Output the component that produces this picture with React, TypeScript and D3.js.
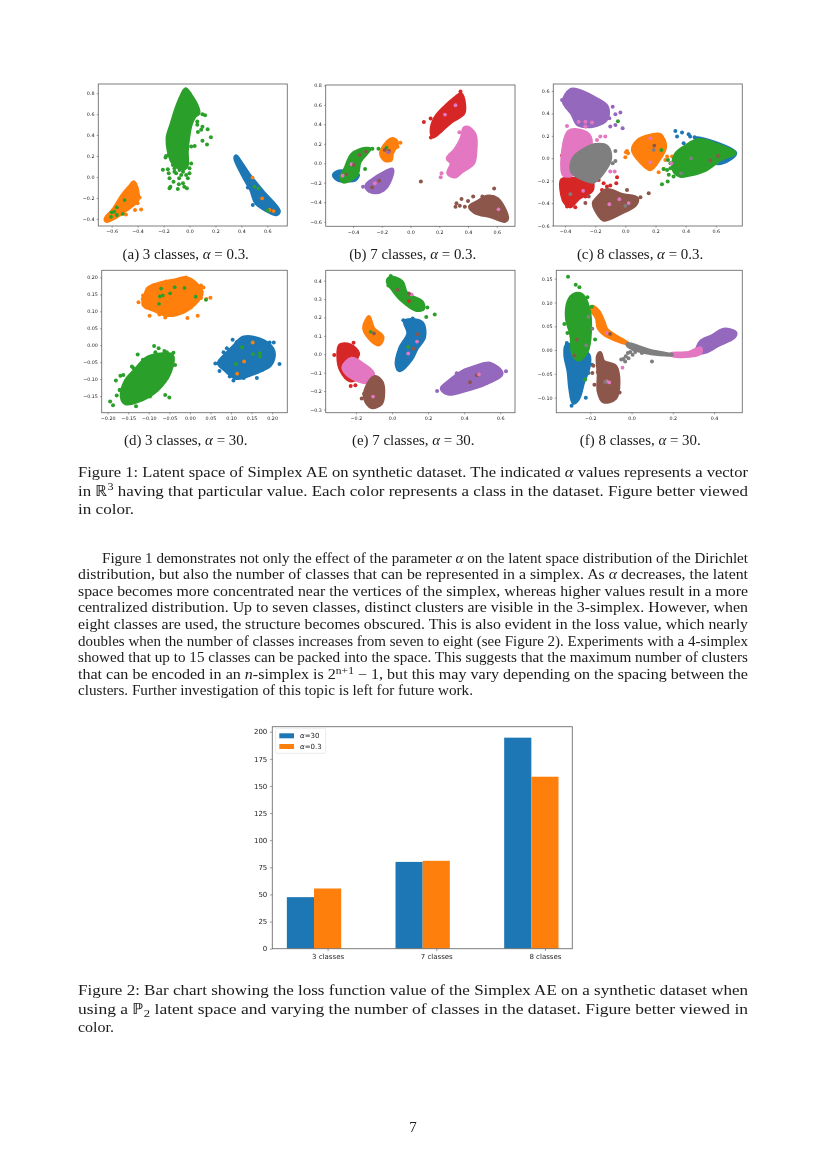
import React, { useEffect, useRef } from 'react';
import * as d3 from 'd3';

type Pt = [number, number];
type Over = [number, number, number];
type Seg = { t: string; i?: boolean; sup?: boolean };

const blue = '#1f77b4';
const orange = '#ff7f0e';
const green = '#2ca02c';
const red = '#d62728';
const purple = '#9467bd';
const brown = '#8c564b';
const pink = '#e377c2';
const gray = '#7f7f7f';
const classColors = [blue, orange, green, red, purple, brown, pink, gray];

// --- (a) 3 classes, alpha 0.3 ---
const aTicksX = [-0.6, -0.4, -0.2, 0, 0.2, 0.4, 0.6];
const aTicksY = [-0.4, -0.2, 0, 0.2, 0.4, 0.6, 0.8];
const aBlueBody: Pt[] = [[0.36, 0.2], [0.385, 0.16], [0.46, 0.02], [0.565, -0.14], [0.69, -0.325], [0.668, -0.357], [0.604, -0.325], [0.514, -0.25], [0.475, -0.124], [0.41, 0.02], [0.352, 0.178]];
const aBluePts: Pt[] = [[0.488, -0.268], [0.45, -0.1]];
const aOrangeBody: Pt[] = [[-0.43, -0.05], [-0.4, -0.14], [-0.4, -0.22], [-0.49, -0.315], [-0.565, -0.38], [-0.64, -0.42], [-0.648, -0.4], [-0.59, -0.315], [-0.515, -0.17], [-0.46, -0.09]];
const aOrangePts: Pt[] = [[-0.373, -0.31], [-0.42, -0.315], [-0.4, -0.25], [-0.385, -0.195], [-0.49, -0.357], [-0.515, -0.347]];
const aGreenBody: Pt[] = [[-0.03, 0.84], [0.01, 0.78], [0.06, 0.67], [0.07, 0.61], [0.04, 0.58], [0.01, 0.5], [-0.01, 0.37], [-0.02, 0.24], [-0.02, 0.11], [-0.04, 0.08], [-0.1, 0.1], [-0.14, 0.16], [-0.17, 0.37], [-0.14, 0.5], [-0.1, 0.66], [-0.06, 0.78]];
const aGreenPts: Pt[] = [[0.1, 0.6], [0.12, 0.59], [0.06, 0.53], [0.06, 0.5], [0.1, 0.48], [0.14, 0.455], [0.09, 0.45], [0.065, 0.43], [0.165, 0.38], [0.1, 0.347], [0.135, 0.31], [0.04, 0.296], [0.013, 0.29], [-0.167, 0.385], [-0.154, 0.354], [-0.18, 0.2], [-0.185, 0.185], [-0.205, 0.07], [-0.167, 0.073], [-0.16, 0.035], [-0.116, 0.05], [-0.154, -0.013], [-0.08, -0.013], [-0.026, 0.02], [0, 0.035], [-0.147, -0.092], [-0.154, -0.108], [-0.082, -0.07], [-0.05, -0.06], [-0.04, -0.092], [-0.02, -0.108], [-0.09, -0.115], [-0.123, -0.045], [-0.064, 0.02], [-0.103, 0.035], [-0.05, 0.05], [-0.013, -0.013], [-0.128, 0.115], [-0.116, 0.083], [-0.077, 0.067], [0, 0.083], [0.013, 0.13], [-0.16, 0.21], [-0.154, 0.258]];
const aOver: Over[] = [[-0.5, -0.22, 2], [-0.56, -0.29, 2], [-0.6, -0.337, 2], [-0.605, -0.38, 2], [-0.56, -0.363, 2], [-0.515, -0.353, 2], [-0.58, -0.33, 2], [0.486, -0.006, 1], [0.56, -0.204, 1], [0.617, -0.315, 1], [0.648, -0.325, 1], [0.5, -0.092, 2], [0.532, -0.108, 2], [0.604, -0.32, 2]];

// --- (b) 7 classes, alpha 0.3 ---
const bTicksX = [-0.4, -0.2, 0, 0.2, 0.4, 0.6];
const bTicksY = [-0.6, -0.4, -0.2, 0, 0.2, 0.4, 0.6, 0.8];
const bBlueBody: Pt[] = [[-0.534, -0.12], [-0.503, -0.086], [-0.457, -0.086], [-0.387, -0.137], [-0.364, -0.12], [-0.387, -0.171], [-0.445, -0.178], [-0.503, -0.171], [-0.53, -0.137]];
const bOrangeBody: Pt[] = [[-0.114, 0.247], [-0.093, 0.205], [-0.128, 0.103], [-0.137, 0.034], [-0.179, 0.034], [-0.206, 0.103], [-0.179, 0.188], [-0.144, 0.24]];
const bOrangePts: Pt[] = [[-0.07, 0.212], [-0.09, 0.171]];
const bGreenBody: Pt[] = [[-0.283, 0.147], [-0.306, 0.103], [-0.353, 0.017], [-0.376, -0.12], [-0.469, -0.188], [-0.48, -0.137], [-0.452, -0.05], [-0.41, 0.086], [-0.353, 0.137]];
const bGreenPts: Pt[] = [[-0.265, 0.15], [-0.223, 0.15], [-0.316, -0.058]];
const bRedBody: Pt[] = [[0.35, 0.71], [0.374, 0.6], [0.367, 0.51], [0.285, 0.43], [0.216, 0.34], [0.158, 0.274], [0.146, 0.325], [0.17, 0.46], [0.24, 0.58], [0.31, 0.67]];
const bRedPts: Pt[] = [[0.093, 0.425], [0.14, 0.46], [0.348, 0.736], [0.142, 0.264], [0.18, 0.3], [0.174, 0.43]];
const bPurpleBody: Pt[] = [[-0.128, -0.062], [-0.137, -0.154], [-0.19, -0.274], [-0.248, -0.298], [-0.295, -0.274], [-0.306, -0.223], [-0.248, -0.154], [-0.202, -0.113]];
const bPurplePts: Pt[] = [[-0.33, -0.24]];
const bBrownBody: Pt[] = [[0.53, -0.342], [0.605, -0.366], [0.673, -0.565], [0.657, -0.592], [0.564, -0.548], [0.448, -0.503], [0.413, -0.445], [0.47, -0.394]];
const bBrownPts: Pt[] = [[0.582, -0.26], [0.313, -0.445], [0.32, -0.41], [0.355, -0.366], [0.4, -0.387], [0.436, -0.342], [0.5, -0.342], [0.343, -0.435], [0.378, -0.445], [0.072, -0.188]];
const bPinkBody: Pt[] = [[0.4, 0.366], [0.448, 0.29], [0.452, 0.12], [0.436, 0], [0.355, -0.086], [0.31, -0.137], [0.262, -0.103], [0.285, 0], [0.258, 0.05], [0.31, 0.137], [0.355, 0.257], [0.374, 0.36]];
const bPinkPts: Pt[] = [[0.216, -0.103], [0.21, -0.144], [0.34, 0.318]];
const bOver: Over[] = [[0.313, 0.596, 6], [0.24, 0.5, 6], [0.612, -0.473, 6], [-0.248, -0.205, 6], [-0.218, -0.178, 5], [-0.267, -0.247, 5], [-0.41, -0.01, 6], [-0.473, -0.127, 6], [-0.394, -0.017, 5], [-0.445, -0.113, 5], [-0.353, 0.086, 5], [-0.309, 0.12, 5], [-0.167, 0.16, 2], [-0.15, 0.127, 5], [-0.179, 0.137, 5], [-0.155, 0.113, 4]];

// --- (c) 8 classes, alpha 0.3 ---
const cTicksX = [-0.4, -0.2, 0, 0.2, 0.4, 0.6];
const cTicksY = [-0.6, -0.4, -0.2, 0, 0.2, 0.4, 0.6];
const cBlueBody: Pt[] = [[0.465, 0.178], [0.73, 0.045], [0.61, -0.045], [0.487, 0.13]];
const cBluePts: Pt[] = [[0.332, 0.243], [0.376, 0.23], [0.343, 0.193], [0.42, 0.214], [0.43, 0.193], [0.46, 0.187], [0.387, 0.134], [0.454, 0.134]];
const cOrangeBody: Pt[] = [[0.166, 0.202], [0.232, 0.208], [0.265, 0.104], [0.221, -0.015], [0.166, -0.098], [0.1, -0.03], [0.049, 0.074], [0.088, 0.163]];
const cOrangePts: Pt[] = [[0.004, 0.053], [0.018, 0.045], [0, 0.009], [0.011, 0.065], [0.221, -0.125], [0.254, -0.095], [0.277, 0.015], [0.31, 0.015], [0.265, -0.015]];
const cGreenBody: Pt[] = [[0.487, 0.163], [0.608, 0.119], [0.726, 0.045], [0.642, 0], [0.53, -0.104], [0.42, -0.148], [0.365, -0.157], [0.32, -0.104], [0.332, 0.03], [0.398, 0.104]];
const cGreenPts: Pt[] = [[-0.049, 0.33], [0.239, 0.074], [0.243, -0.231], [0.281, -0.208], [0.288, -0.148], [0.254, -0.095], [0.277, -0.104], [0.299, -0.045], [0.283, -0.015], [0.32, -0.163], [0.299, -0.09]];
const cRedBody: Pt[] = [[-0.42, -0.193], [-0.31, -0.184], [-0.232, -0.178], [-0.221, -0.282], [-0.31, -0.356], [-0.365, -0.43], [-0.398, -0.4], [-0.42, -0.326]];
const cRedPts: Pt[] = [[-0.42, 0.024], [-0.416, -0.045], [-0.387, -0.43], [-0.332, -0.436], [-0.177, -0.193], [-0.144, -0.223], [-0.122, -0.252], [-0.055, -0.169], [-0.06, -0.223], [-0.1, -0.243], [-0.155, -0.282], [-0.243, -0.297], [-0.265, -0.341]];
const cPurpleBody: Pt[] = [[-0.365, 0.608], [-0.32, 0.608], [-0.199, 0.534], [-0.122, 0.46], [-0.122, 0.356], [-0.188, 0.297], [-0.31, 0.297], [-0.354, 0.4], [-0.409, 0.504]];
const cPurplePts: Pt[] = [[-0.084, 0.46], [-0.033, 0.407], [-0.066, 0.392], [-0.106, 0.356], [-0.018, 0.267], [-0.066, 0.297], [-0.1, 0.282], [-0.42, 0.52]];
const cBrownBody: Pt[] = [[-0.122, -0.282], [-0.022, -0.326], [0.077, -0.356], [0.066, -0.415], [-0.033, -0.49], [-0.144, -0.549], [-0.177, -0.504], [-0.21, -0.4], [-0.177, -0.341]];
const cBrownPts: Pt[] = [[0.155, -0.312], [0.1, -0.347], [0.011, -0.282], [-0.243, -0.341], [-0.265, -0.4]];
const cPinkBody: Pt[] = [[-0.332, 0.252], [-0.243, 0.208], [-0.232, 0.104], [-0.343, -0.045], [-0.354, -0.148], [-0.409, -0.148], [-0.42, -0.045], [-0.398, 0.178], [-0.376, 0.237]];
const cPinkPts: Pt[] = [[-0.387, 0.288], [-0.265, 0.282], [-0.221, 0.318], [-0.166, 0.193], [-0.133, 0.193], [-0.188, 0.163], [-0.31, 0.326], [-0.265, 0.326], [-0.1, -0.119], [-0.071, -0.119]];
const cGrayBody: Pt[] = [[-0.199, 0.119], [-0.122, 0.104], [-0.1, 0], [-0.144, -0.119], [-0.21, -0.208], [-0.265, -0.193], [-0.354, -0.119], [-0.343, 0], [-0.277, 0.074]];
const cGrayPts: Pt[] = [[-0.066, -0.024], [-0.084, -0.045], [-0.122, 0.074], [-0.066, 0.065]];
const cOver: Over[] = [[0.166, 0.178, 6], [0.188, 0.074, 7], [0.192, 0.113, 5], [0.166, -0.036, 6], [0.436, 0, 7], [0.564, -0.02, 5], [0.615, 0.02, 5], [0.305, -0.045, 6], [0.37, -0.134, 7], [-0.106, -0.41, 6], [-0.04, -0.365, 6], [0.022, -0.4, 6], [0, -0.424, 7], [-0.365, -0.32, 7], [-0.28, -0.29, 6]];

// --- (d) 3 classes, alpha 30 ---
const dTicksX = [-0.2, -0.15, -0.1, -0.05, 0, 0.05, 0.1, 0.15, 0.2];
const dTicksY = [-0.15, -0.1, -0.05, 0, 0.05, 0.1, 0.15, 0.2];
const dBlueBody: Pt[] = [[0.106, -0.004], [0.131, 0.023], [0.179, 0.013], [0.204, -0.019], [0.196, -0.058], [0.155, -0.083], [0.114, -0.097], [0.086, -0.073], [0.07, -0.053], [0.09, -0.024]];
const dBluePts: Pt[] = [[0.104, 0.016], [0.062, -0.054], [0.082, -0.021], [0.218, -0.055], [0.204, 0.008], [0.194, 0.008], [0.163, -0.097], [0.106, -0.104], [0.072, -0.076], [0.114, 0.009], [0.151, 0.019], [0.187, 0.006], [0.2, -0.043], [0.175, -0.073], [0.131, -0.097], [0.097, -0.092], [0.078, -0.063], [0.09, -0.009]];
const dOrangeBody: Pt[] = [[-0.1, 0.17], [-0.032, 0.193], [-0.007, 0.198], [0.021, 0.173], [0.029, 0.153], [0.017, 0.129], [-0.015, 0.099], [-0.056, 0.089], [-0.088, 0.104], [-0.113, 0.119], [-0.109, 0.148]];
const dOrangePts: Pt[] = [[-0.125, 0.127], [-0.115, 0.136], [0.05, 0.14], [0.04, 0.136], [-0.098, 0.087], [-0.06, 0.082], [-0.006, 0.08], [0.019, 0.087], [-0.01, 0.2], [0.033, 0.17], [-0.103, 0.166], [-0.087, 0.178], [-0.058, 0.188], [0.002, 0.19], [0.027, 0.176], [0.027, 0.139], [0.002, 0.111], [-0.03, 0.097], [-0.074, 0.091], [-0.106, 0.111], [-0.114, 0.147]];
const dGreenBody: Pt[] = [[-0.072, -0.027], [-0.044, -0.029], [-0.048, -0.078], [-0.08, -0.132], [-0.129, -0.166], [-0.157, -0.171], [-0.166, -0.151], [-0.157, -0.107], [-0.133, -0.073], [-0.105, -0.038]];
const dGreenPts: Pt[] = [[-0.087, -0.002], [-0.127, -0.027], [-0.04, -0.022], [-0.036, -0.058], [-0.18, -0.104], [-0.169, -0.09], [-0.194, -0.166], [-0.187, -0.177], [-0.178, -0.148], [-0.171, -0.132], [-0.06, -0.147], [-0.05, -0.154], [-0.131, -0.18], [-0.137, -0.068], [-0.076, -0.009], [-0.062, -0.017], [-0.084, -0.021], [-0.056, -0.021], [-0.045, -0.048], [-0.056, -0.097], [-0.097, -0.151], [-0.117, -0.151], [-0.145, -0.171], [-0.17, -0.132], [-0.162, -0.088], [-0.141, -0.063], [-0.114, -0.043]];
const dOver: Over[] = [[-0.07, 0.167, 2], [-0.073, 0.144, 2], [-0.066, 0.147, 2], [-0.048, 0.153, 2], [-0.037, 0.171, 2], [-0.013, 0.169, 2], [0.014, 0.143, 2], [-0.075, 0.122, 2], [0.039, 0.134, 2], [0.153, 0.008, 1], [0.132, -0.048, 1], [0.115, -0.084, 1], [0.127, -0.006, 2], [0.153, -0.026, 2], [0.17, -0.023, 2], [0.171, -0.033, 2], [0.112, -0.055, 2]];

// --- (e) 7 classes, alpha 30 ---
const eTicksX = [-0.2, 0, 0.2, 0.4, 0.6];
const eTicksY = [-0.3, -0.2, -0.1, 0, 0.1, 0.2, 0.3, 0.4];
const eBlueBody: Pt[] = [[0.072, 0.18], [0.165, 0.172], [0.179, 0.094], [0.137, 0.031], [0.109, -0.024], [0.044, -0.087], [0.026, -0.06], [0.044, 0.031], [0.09, 0.113]];
const eBluePts: Pt[] = [[0.115, 0.194], [0.035, -0.082], [0.063, 0.185]];
const eOrangeBody: Pt[] = [[-0.128, 0.203], [-0.103, 0.14], [-0.052, 0.094], [-0.072, 0.053], [-0.113, 0.076], [-0.155, 0.14], [-0.141, 0.185]];
const eGreenBody: Pt[] = [[-0.011, 0.416], [0.054, 0.394], [0.081, 0.33], [0.165, 0.285], [0.174, 0.249], [0.137, 0.24], [0.054, 0.294], [0.007, 0.348], [-0.024, 0.394]];
const eGreenPts: Pt[] = [[-0.02, 0.374], [0.196, 0.254], [0.19, 0.203], [0.237, 0.216], [-0.007, 0.425]];
const eRedBody: Pt[] = [[-0.288, 0.049], [-0.233, 0.049], [-0.187, 0.004], [-0.205, -0.042], [-0.187, -0.123], [-0.233, -0.142], [-0.283, -0.087], [-0.298, -0.015]];
const eRedPts: Pt[] = [[-0.32, -0.004], [-0.213, 0.062], [-0.229, -0.172], [-0.203, -0.169]];
const ePurpleBody: Pt[] = [[0.543, -0.051], [0.608, -0.105], [0.516, -0.16], [0.405, -0.196], [0.312, -0.214], [0.275, -0.187], [0.312, -0.151], [0.405, -0.087], [0.46, -0.069]];
const ePurplePts: Pt[] = [[0.632, -0.093], [0.25, -0.2], [0.359, -0.103]];
const ePinkBody: Pt[] = [[-0.224, -0.024], [-0.159, -0.056], [-0.104, -0.105], [-0.122, -0.151], [-0.187, -0.142], [-0.251, -0.105], [-0.27, -0.069]];
const eBrownBody: Pt[] = [[-0.094, -0.123], [-0.057, -0.151], [-0.048, -0.214], [-0.061, -0.269], [-0.113, -0.287], [-0.15, -0.241], [-0.14, -0.178]];
const eBrownPts: Pt[] = [[-0.168, -0.241], [-0.155, -0.214]];
const eOver: Over[] = [[0.031, 0.35, 5], [0.094, 0.289, 3], [0.109, 0.325, 6], [0.094, 0.33, 5], [-0.118, 0.122, 2], [-0.1, 0.113, 5], [0.14, 0.109, 5], [0.118, 0.031, 5], [0.139, 0.069, 6], [0.09, 0.004, 6], [0.09, 0.04, 2], [-0.105, -0.23, 6], [0.433, -0.152, 5], [0.47, -0.114, 5], [0.482, -0.109, 6]];

// --- (f) 8 classes, alpha 30 ---
const fTicksX = [-0.2, 0, 0.2, 0.4];
const fTicksY = [-0.1, -0.05, 0, 0.05, 0.1, 0.15];
const fBlueBody: Pt[] = [[-0.314, 0.011], [-0.209, -0.01], [-0.209, -0.038], [-0.233, -0.066], [-0.257, -0.101], [-0.282, -0.111], [-0.298, -0.08], [-0.306, -0.045], [-0.322, -0.01]];
const fBluePts: Pt[] = [[-0.291, -0.117], [-0.222, -0.1], [-0.209, -0.048], [-0.314, 0.015], [-0.192, -0.031]];
const fOrangeBody: Pt[] = [[-0.19, 0.091], [-0.16, 0.081], [-0.136, 0.06], [-0.12, 0.043], [-0.015, 0.013], [-0.128, 0.032], [-0.16, 0.046], [-0.169, 0.067], [-0.193, 0.084]];
const fGreenBody: Pt[] = [[-0.282, 0.116], [-0.241, 0.116], [-0.209, 0.088], [-0.201, 0.039], [-0.217, -0.003], [-0.257, -0.02], [-0.282, -0.01], [-0.293, 0.032], [-0.314, 0.067], [-0.306, 0.102]];
const fGreenPts: Pt[] = [[-0.308, 0.154], [-0.326, 0.055], [-0.253, 0.132], [-0.271, 0.137], [-0.214, 0.111], [-0.193, 0.091], [-0.177, 0.022], [-0.311, 0.036], [-0.225, -0.062]];
const fPurpleBody: Pt[] = [[0.334, 0.017], [0.39, 0.029], [0.447, 0.043], [0.504, 0.036], [0.496, 0.027], [0.423, 0.011], [0.358, -0.004], [0.318, -0.004]];
const fBrownBody: Pt[] = [[-0.152, -0.006], [-0.136, -0.024], [-0.079, -0.034], [-0.063, -0.066], [-0.079, -0.101], [-0.136, -0.108], [-0.16, -0.087], [-0.16, -0.052], [-0.164, -0.013]];
const fBrownPts: Pt[] = [[-0.18, -0.073], [-0.058, -0.089], [-0.19, -0.048], [-0.164, -0.046], [-0.185, -0.033]];
const fPinkBody: Pt[] = [[0.193, -0.008], [0.277, -0.006], [0.334, 0.004], [0.334, -0.006], [0.245, -0.013], [0.196, -0.011]];
const fGrayBody: Pt[] = [[-0.018, 0.013], [0.05, 0.004], [0.115, -0.004], [0.196, -0.01], [0.115, -0.008], [0.05, -0.003], [-0.018, 0.009]];
const fGrayPts: Pt[] = [[0.099, -0.024], [-0.05, -0.02], [-0.039, -0.019], [-0.028, -0.013], [-0.018, -0.006], [-0.006, -0.004], [0.005, -0.01], [0.018, -0.004], [0.037, -0.001], [0.05, -0.006], [0.066, -0.004], [-0.031, -0.024], [-0.015, -0.017], [0.011, 0.001]];
const fOver: Over[] = [[-0.12, -0.066, 6], [-0.108, -0.068, 6], [-0.128, -0.067, 7], [-0.044, -0.037, 6], [-0.12, 0.036, 6], [-0.19, 0.045, 7], [-0.209, 0.07, 7], [-0.22, 0.01, 7], [-0.266, 0.022, 5], [-0.277, -0.011, 5], [-0.104, 0.034, 5]];

// --- Figure 2 bars ---
const barClasses = ['3 classes', '7 classes', '8 classes'];
const barAlpha30 = [47.5, 80, 194.5];
const barAlpha03 = [55.5, 81, 158.5];
const barTicksY = [0, 25, 50, 75, 100, 125, 150, 175, 200];
const barLegend = ['=30', '=0.3'];

// --- Page text ---
const subCaptions = [
  ['(a) 3 classes, ', '0.3.'], ['(b) 7 classes, ', '0.3.'], ['(c) 8 classes, ', '0.3.'],
  ['(d) 3 classes, ', '30.'], ['(e) 7 classes, ', '30.'], ['(f) 8 classes, ', '30.'],
];
const fig1Caption: Seg[][] = [
  [{ t: 'Figure 1: Latent space of Simplex AE on synthetic dataset. The indicated ' }, { t: 'α', i: true }, { t: ' values represents a vector' }],
  [{ t: 'in ℝ' }, { t: '3', sup: true }, { t: ' having that particular value. Each color represents a class in the dataset. Figure better viewed' }],
  [{ t: 'in color.' }],
];
const paragraph: Seg[][] = [
  [{ t: 'Figure 1 demonstrates not only the effect of the parameter ' }, { t: 'α', i: true }, { t: ' on the latent space distribution of the Dirichlet' }],
  [{ t: 'distribution, but also the number of classes that can be represented in a simplex. As ' }, { t: 'α', i: true }, { t: ' decreases, the latent' }],
  [{ t: 'space becomes more concentrated near the vertices of the simplex, whereas higher values result in a more' }],
  [{ t: 'centralized distribution. Up to seven classes, distinct clusters are visible in the 3-simplex. However, when' }],
  [{ t: 'eight classes are used, the structure becomes obscured. This is also evident in the loss value, which nearly' }],
  [{ t: 'doubles when the number of classes increases from seven to eight (see Figure 2). Experiments with a 4-simplex' }],
  [{ t: 'showed that up to 15 classes can be packed into the space. This suggests that the maximum number of clusters' }],
  [{ t: 'that can be encoded in an ' }, { t: 'n', i: true }, { t: '-simplex is 2' }, { t: 'n+1', sup: true }, { t: ' − 1, but this may vary depending on the spacing between the' }],
  [{ t: 'clusters. Further investigation of this topic is left for future work.' }],
];
const fig2Caption: Seg[][] = [
  [{ t: 'Figure 2: Bar chart showing the loss function value of the Simplex AE on a synthetic dataset when' }],
  [{ t: 'using a ℙ' }, { t: '2', sup: true }, { t: ' latent space and varying the number of classes in the dataset. Figure better viewed in' }],
  [{ t: 'color.' }],
];

const serif = '"Liberation Serif", serif';
const sans = '"DejaVu Sans", sans-serif';

type Series = { c: string; body: Pt[]; pts?: Pt[] };
const panels = [
  { box: [98.3, 287.3, 84, 226], dx: [-0.703, 0.754], dy: [-0.468, 0.888], fmtX: '.1f', fmtY: '.1f', tx: aTicksX, ty: aTicksY, over: aOver,
    series: [{ c: blue, body: aBlueBody, pts: aBluePts }, { c: orange, body: aOrangeBody, pts: aOrangePts }, { c: green, body: aGreenBody, pts: aGreenPts }] as Series[] },
  { box: [325.7, 515, 85, 226.3], dx: [-0.59, 0.727], dy: [-0.647, 0.804], fmtX: '.1f', fmtY: '.1f', tx: bTicksX, ty: bTicksY, over: bOver,
    series: [{ c: blue, body: bBlueBody }, { c: orange, body: bOrangeBody, pts: bOrangePts }, { c: green, body: bGreenBody, pts: bGreenPts }, { c: red, body: bRedBody, pts: bRedPts }, { c: purple, body: bPurpleBody, pts: bPurplePts }, { c: brown, body: bBrownBody, pts: bBrownPts }, { c: pink, body: bPinkBody, pts: bPinkPts }] as Series[] },
  { box: [553.3, 742.3, 84, 226], dx: [-0.478, 0.776], dy: [-0.604, 0.662], fmtX: '.1f', fmtY: '.1f', tx: cTicksX, ty: cTicksY, over: cOver,
    series: [{ c: blue, body: cBlueBody, pts: cBluePts }, { c: orange, body: cOrangeBody, pts: cOrangePts }, { c: green, body: cGreenBody, pts: cGreenPts }, { c: red, body: cRedBody, pts: cRedPts }, { c: purple, body: cPurpleBody, pts: cPurplePts }, { c: brown, body: cBrownBody, pts: cBrownPts }, { c: pink, body: cPinkBody, pts: cPinkPts }, { c: gray, body: cGrayBody, pts: cGrayPts }] as Series[] },
  { box: [101.7, 287.3, 270.3, 412.7], dx: [-0.2145, 0.237], dy: [-0.199, 0.221], fmtX: '.2f', fmtY: '.2f', tx: dTicksX, ty: dTicksY, over: dOver,
    series: [{ c: blue, body: dBlueBody, pts: dBluePts }, { c: orange, body: dOrangeBody, pts: dOrangePts }, { c: green, body: dGreenBody, pts: dGreenPts }] as Series[] },
  { box: [325.7, 515, 270.3, 412.7], dx: [-0.3675, 0.682], dy: [-0.3175, 0.456], fmtX: '.1f', fmtY: '.1f', tx: eTicksX, ty: eTicksY, over: eOver,
    series: [{ c: blue, body: eBlueBody, pts: eBluePts }, { c: orange, body: eOrangeBody }, { c: green, body: eGreenBody, pts: eGreenPts }, { c: red, body: eRedBody, pts: eRedPts }, { c: purple, body: ePurpleBody, pts: ePurplePts }, { c: pink, body: ePinkBody }, { c: brown, body: eBrownBody, pts: eBrownPts }] as Series[] },
  { box: [556.3, 742.3, 270.3, 412.7], dx: [-0.365, 0.537], dy: [-0.1316, 0.1676], fmtX: '.1f', fmtY: '.2f', tx: fTicksX, ty: fTicksY, over: fOver,
    series: [{ c: blue, body: fBlueBody, pts: fBluePts }, { c: orange, body: fOrangeBody }, { c: green, body: fGreenBody, pts: fGreenPts }, { c: purple, body: fPurpleBody }, { c: brown, body: fBrownBody, pts: fBrownPts }, { c: pink, body: fPinkBody }, { c: gray, body: fGrayBody, pts: fGrayPts }] as Series[] },
];

const spine = '#6f6f6f';
const minus = (s: string) => s.replace('-', '−');

function styleAxis(g: d3.Selection<SVGGElement, unknown, null, undefined>, size: number) {
  g.select('.domain').remove();
  g.selectAll('line').attr('stroke', '#444').attr('stroke-width', 0.5);
  g.selectAll('text').attr('font-family', sans).attr('font-size', size).attr('fill', '#222');
}

function drawPanel(root: d3.Selection<SVGGElement, unknown, null, undefined>, p: (typeof panels)[number]) {
  const [left, right, top, bottom] = p.box;
  const x = d3.scaleLinear().domain(p.dx).range([left, right]);
  const y = d3.scaleLinear().domain(p.dy).range([bottom, top]);
  const g = root.append('g');

  // dense part of a cloud is an outline, loose samples are dots
  const body = d3.line<Pt>().x(d => x(d[0])).y(d => y(d[1])).curve(d3.curveCatmullRomClosed.alpha(0.5));
  p.series.forEach(s => {
    g.append('path').attr('d', body(s.body)).attr('fill', s.c).attr('stroke', s.c)
      .attr('stroke-width', 3.8).attr('stroke-linejoin', 'round');
    g.selectAll(null).data(s.pts || []).enter().append('circle')
      .attr('cx', d => x(d[0])).attr('cy', d => y(d[1])).attr('r', 2).attr('fill', s.c);
  });
  g.selectAll(null).data(p.over).enter().append('circle')
    .attr('cx', d => x(d[0])).attr('cy', d => y(d[1])).attr('r', 1.9).attr('fill', d => classColors[d[2]]);

  g.append('rect').attr('x', left).attr('y', top).attr('width', right - left).attr('height', bottom - top)
    .attr('fill', 'none').attr('stroke', spine).attr('stroke-width', 0.9);

  const ax = g.append('g').attr('transform', `translate(0,${bottom})`)
    .call(d3.axisBottom(x).tickValues(p.tx).tickSize(1.6).tickPadding(2.2).tickFormat(d => minus(d3.format(p.fmtX)(d as number))));
  styleAxis(ax, 4.8);
  const ay = g.append('g').attr('transform', `translate(${left},0)`)
    .call(d3.axisLeft(y).tickValues(p.ty).tickSize(1.6).tickPadding(2.2).tickFormat(d => minus(d3.format(p.fmtY)(d as number))));
  styleAxis(ay, 4.8);
}

function drawBars(root: d3.Selection<SVGGElement, unknown, null, undefined>) {
  const left = 272.3, right = 572.3, top = 726.7, bottom = 948.7;
  const g = root.append('g');
  const x = d3.scaleLinear().domain([-0.384, 2.377]).range([left, right]);
  const y = d3.scaleLinear().domain([0, 204.6]).range([bottom, top]);
  const w = 0.25;
  barClasses.forEach((_, i) => {
    g.append('rect').attr('x', x(i - w)).attr('y', y(barAlpha30[i])).attr('width', x(i) - x(i - w))
      .attr('height', bottom - y(barAlpha30[i])).attr('fill', blue);
    g.append('rect').attr('x', x(i)).attr('y', y(barAlpha03[i])).attr('width', x(i + w) - x(i))
      .attr('height', bottom - y(barAlpha03[i])).attr('fill', orange);
  });
  g.append('rect').attr('x', left).attr('y', top).attr('width', right - left).attr('height', bottom - top)
    .attr('fill', 'none').attr('stroke', spine).attr('stroke-width', 0.9);

  const ax = g.append('g').attr('transform', `translate(0,${bottom})`)
    .call(d3.axisBottom(x).tickValues(barClasses.map((_, i) => i + w / 2)).tickSize(2.4).tickPadding(2.6)
      .tickFormat((_, i) => barClasses[i]));
  styleAxis(ax, 7);
  const ay = g.append('g').attr('transform', `translate(${left},0)`)
    .call(d3.axisLeft(y).tickValues(barTicksY).tickSize(2.4).tickPadding(2.6));
  styleAxis(ay, 7);

  // legend
  const lg = g.append('g');
  lg.append('rect').attr('x', 275.7).attr('y', 728.3).attr('width', 50).attr('height', 25)
    .attr('fill', '#fff').attr('stroke', '#ddd').attr('stroke-width', 0.6).attr('rx', 1.5);
  [blue, orange].forEach((c, i) => {
    lg.append('rect').attr('x', 279.3).attr('y', 733.3 + i * 10.7).attr('width', 14.7).attr('height', 5).attr('fill', c);
    const t = lg.append('text').attr('x', 300).attr('y', 738.4 + i * 10.7)
      .attr('font-family', sans).attr('font-size', 7).attr('fill', '#222');
    t.append('tspan').attr('font-style', 'italic').text('α');
    t.append('tspan').text(barLegend[i]);
  });
}

function TextLine({ segs, x, y, width, size }: { segs: Seg[]; x: number; y: number; width: number; size: number }) {
  const lowered = segs[0].t.startsWith('using');
  return (
    <text x={x} y={y} fontFamily={serif} fontSize={size} fill="#1a1a1a" textLength={width} lengthAdjust="spacingAndGlyphs" xmlSpace="preserve">
      {segs.map((s, i) => {
        const prevSup = i > 0 && segs[i - 1].sup;
        const shift = lowered ? size * 0.22 : -size * 0.36;
        const dy = s.sup ? shift : prevSup ? -shift : 0;
        return (
          <tspan key={i} dy={dy} fontStyle={s.i ? 'italic' : undefined} fontSize={s.sup ? size * 0.72 : undefined}>{s.t}</tspan>
        );
      })}
    </text>
  );
}

const captionX = [185.7, 412.7, 640, 185.7, 413.3, 640.3];
const captionY = [259, 259, 259, 445, 445, 445];

export default function App() {
  const chartRef = useRef<SVGGElement | null>(null);

  useEffect(() => {
    const root = d3.select(chartRef.current as SVGGElement);
    root.selectAll('*').remove();
    panels.forEach(p => drawPanel(root, p));
    drawBars(root);
  }, []);

  return (
    <svg width={826} height={1169} style={{ position: 'absolute', left: 0, top: 0, background: '#fff' }}>
      <defs>
        <filter id="soft" x="0" y="0" width="100%" height="100%">
          <feGaussianBlur stdDeviation="0.35" />
        </filter>
      </defs>
      <g filter="url(#soft)">
        <g ref={chartRef} />
        {subCaptions.map((c, i) => (
          <text key={i} x={captionX[i]} y={captionY[i]} textAnchor="middle" fontFamily={serif} fontSize={14.9} fill="#1a1a1a" xmlSpace="preserve">
            {c[0]}<tspan fontStyle="italic">α</tspan>{' = ' + c[1]}
          </text>
        ))}
        {fig1Caption.map((l, i) => (
          <TextLine key={i} segs={l} x={78} y={477 + i * 18.7} width={i === 2 ? 56 : 670} size={15.4} />
        ))}
        {paragraph.map((l, i) => (
          <TextLine key={i} segs={l} x={i === 0 ? 102 : 78} y={562.5 + i * 16.6} width={i === 0 ? 646 : i === 8 ? 395 : 670} size={13.6} />
        ))}
        {fig2Caption.map((l, i) => (
          <TextLine key={i} segs={l} x={78} y={995 + i * 18.7} width={i === 2 ? 36 : 670} size={15.4} />
        ))}
        <text x={413} y={1132} textAnchor="middle" fontFamily={serif} fontSize={15} fill="#1a1a1a">7</text>
      </g>
    </svg>
  );
}
